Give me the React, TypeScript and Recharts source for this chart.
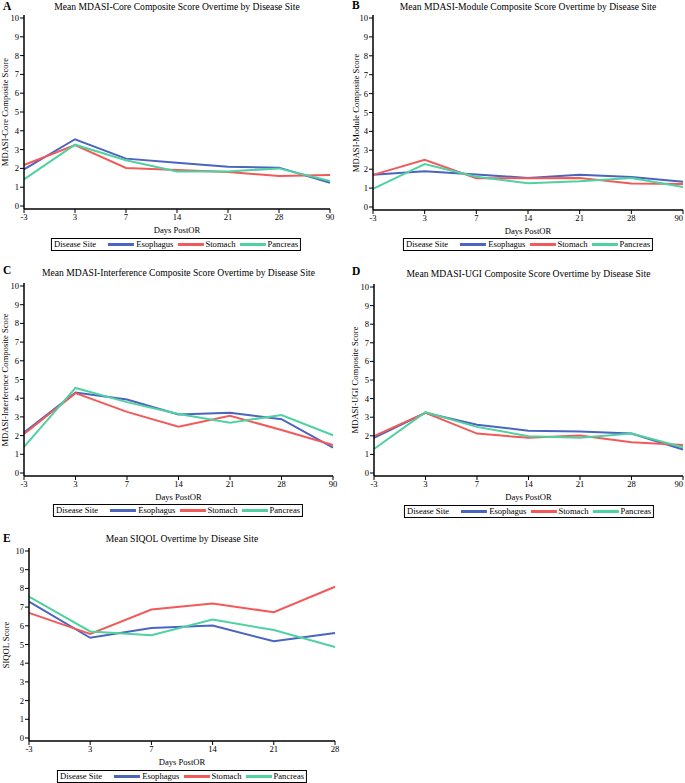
import React from "react";
import { Line, LineChart, XAxis, YAxis } from "recharts";

const days = ["-3", "3", "7", "14", "21", "28", "90"];
const siqolDays = ["-3", "3", "7", "14", "21", "28"];
const sites = ["Esophagus", "Stomach", "Pancreas"];
const yTicks = [0, 1, 2, 3, 4, 5, 6, 7, 8, 9, 10];

// MDASI-Core composite
const coreEsophagus = [1.95, 3.55, 2.52, 2.3, 2.09, 2.04, 1.24];
const coreStomach = [2.18, 3.24, 2.02, 1.91, 1.81, 1.6, 1.65];
const corePancreas = [1.42, 3.26, 2.43, 1.84, 1.84, 2.0, 1.33];

// MDASI-Module composite
const moduleEsophagus = [1.7, 1.89, 1.72, 1.54, 1.7, 1.59, 1.33];
const moduleStomach = [1.7, 2.5, 1.52, 1.52, 1.54, 1.24, 1.22];
const modulePancreas = [0.96, 2.27, 1.6, 1.26, 1.36, 1.54, 1.06];

// MDASI-Interference composite
const interfEsophagus = [2.16, 4.3, 3.93, 3.13, 3.22, 2.88, 1.36];
const interfStomach = [2.09, 4.27, 3.27, 2.48, 3.06, 2.3, 1.5];
const interfPancreas = [1.4, 4.55, 3.79, 3.15, 2.69, 3.1, 2.02];

// MDASI-UGI composite
const ugiEsophagus = [1.89, 3.24, 2.6, 2.27, 2.23, 2.12, 1.26];
const ugiStomach = [1.98, 3.24, 2.12, 1.89, 2.02, 1.65, 1.5];
const ugiPancreas = [1.29, 3.27, 2.48, 1.98, 1.89, 2.12, 1.38];

// SIQOL
const siqolEsophagus = [7.29, 5.36, 5.88, 6.02, 5.17, 5.61];
const siqolStomach = [6.69, 5.56, 6.87, 7.19, 6.73, 8.09];
const siqolPancreas = [7.56, 5.7, 5.5, 6.34, 5.77, 4.87];

const colors: Record<string, string> = {
  Esophagus: "#4a64c0",
  Stomach: "#f25a5a",
  Pancreas: "#4fd1a1",
};

const font = "'Liberation Serif', 'Times New Roman', serif";
const PAGE_W = 685;

type Geo = {
  chartX: number;
  L: number;
  R: number;
  T: number;
  B: number;
  titleY: number;
  letterX: number;
  letterY: number;
  yLabelX: number;
  legendTop: number;
  legendCenter: number;
};

type PanelProps = {
  letter: string;
  title: string;
  yLabel: string;
  cats: string[];
  series: number[][];
  geo: Geo;
};

const buildRows = (cats: string[], series: number[][]) =>
  cats.map((day, i) => {
    const row: Record<string, string | number> = { day };
    sites.forEach((s, k) => {
      row[s] = series[k][i];
    });
    return row;
  });

// day tick; the label at the page edge is pulled inside
const DayTick = (props: any) => {
  const { x, y, payload, edge } = props;
  const atEdge = x + 6 > edge;
  return (
    <text
      x={atEdge ? edge - 1 : x}
      y={y}
      dy="0.8em"
      textAnchor={atEdge ? "end" : "middle"}
      fontSize={8.6}
      fontFamily={font}
      fill="#000"
    >
      {payload.value}
    </text>
  );
};

const Legend = ({ center, top }: { center: number; top: number }) => (
  <div
    style={{
      position: "absolute",
      left: center,
      top,
      transform: "translateX(-50%)",
      display: "flex",
      alignItems: "center",
      height: 11,
      border: "1.5px solid #000",
      padding: "0 2px",
      fontSize: 8.6,
      lineHeight: "11px",
      whiteSpace: "nowrap",
      background: "#fff",
    }}
  >
    <span style={{ marginRight: 8 }}>Disease Site</span>
    {sites.map((s) => (
      <React.Fragment key={s}>
        <span
          style={{
            display: "inline-block",
            width: 26,
            height: 2.5,
            background: colors[s],
            marginLeft: 4,
            marginRight: 2,
          }}
        />
        <span>{s}</span>
      </React.Fragment>
    ))}
  </div>
);

const Panel = ({ letter, title, yLabel, cats, series, geo }: PanelProps) => {
  const { chartX, L, R, T, B } = geo;
  const data = buildRows(cats, series);
  const plotH = B - T;
  const width = R - chartX + 12;
  const height = plotH + 2 + 32;
  const edge = PAGE_W - chartX - 1;
  const tick = { fontSize: 8.6, fill: "#000", fontFamily: font };
  const axisLine = { stroke: "#000", strokeWidth: 1.5 };

  return (
    <>
      <div
        style={{
          position: "absolute",
          left: geo.letterX,
          top: geo.letterY,
          fontSize: 11.5,
          fontWeight: "bold",
          lineHeight: 1,
        }}
      >
        {letter}
      </div>
      <div
        style={{
          position: "absolute",
          left: L,
          width: R - L,
          top: geo.titleY - 6,
          lineHeight: "12px",
          fontSize: 9.6,
          textAlign: "center",
          whiteSpace: "nowrap",
        }}
      >
        {title}
      </div>
      <div
        style={{
          position: "absolute",
          left: geo.yLabelX - plotH / 2,
          top: (T + B) / 2 - 5,
          width: plotH,
          height: 10,
          lineHeight: "10px",
          fontSize: 8.6,
          textAlign: "center",
          transform: "rotate(-90deg)",
          whiteSpace: "nowrap",
        }}
      >
        {yLabel}
      </div>
      <div style={{ position: "absolute", left: chartX, top: T - 2 }}>
        <LineChart
          width={width}
          height={height}
          data={data}
          margin={{ top: 2, right: 12, bottom: 0, left: 0 }}
        >
          <XAxis
            dataKey="day"
            height={32}
            tick={<DayTick edge={edge} />}
            tickSize={4}
            tickMargin={0}
            tickLine={{ stroke: "#000" }}
            axisLine={axisLine}
            interval={0}
            label={{
              value: "Days PostOR",
              position: "insideBottom",
              offset: 8,
              fontSize: 8.6,
              fill: "#000",
              fontFamily: font,
            }}
          />
          <XAxis
            xAxisId="top"
            orientation="top"
            dataKey="day"
            height={0}
            tick={false}
            tickLine={false}
            axisLine={axisLine}
          />
          <YAxis
            width={L - chartX}
            domain={[0, 10]}
            ticks={yTicks}
            interval={0}
            padding={{ top: 3, bottom: 3 }}
            tick={tick}
            tickSize={4}
            tickMargin={1}
            tickLine={{ stroke: "#000" }}
            axisLine={axisLine}
          />
          <YAxis
            yAxisId="right"
            orientation="right"
            width={0}
            domain={[0, 10]}
            tick={false}
            tickLine={false}
            axisLine={axisLine}
          />
          {sites.map((s) => (
            <Line
              key={s}
              dataKey={s}
              type="linear"
              stroke={colors[s]}
              strokeWidth={2}
              dot={false}
              activeDot={false}
              isAnimationActive={false}
            />
          ))}
        </LineChart>
      </div>
      <Legend center={geo.legendCenter} top={geo.legendTop} />
    </>
  );
};

const App = () => (
  <div
    style={{
      position: "absolute",
      left: 0,
      top: 0,
      width: PAGE_W,
      height: 783,
      background: "#fff",
      fontFamily: font,
      color: "#000",
      overflow: "hidden",
    }}
  >
    <Panel
      letter="A"
      title="Mean MDASI-Core Composite Score Overtime by Disease Site"
      yLabel="MDASI-Core Composite Score"
      cats={days}
      series={[coreEsophagus, coreStomach, corePancreas]}
      geo={{ chartX: 0, L: 24, R: 330, T: 15, B: 209, titleY: 6.5, letterX: 3, letterY: 1, yLabelX: 5, legendTop: 238, legendCenter: 176 }}
    />
    <Panel
      letter="B"
      title="Mean MDASI-Module Composite Score Overtime by Disease Site"
      yLabel="MDASI-Module Composite Score"
      cats={days}
      series={[moduleEsophagus, moduleStomach, modulePancreas]}
      geo={{ chartX: 340, L: 373, R: 683, T: 15, B: 210, titleY: 6.5, letterX: 352, letterY: 0, yLabelX: 355, legendTop: 238, legendCenter: 528 }}
    />
    <Panel
      letter="C"
      title="Mean MDASI-Interference Composite Score Overtime by Disease Site"
      yLabel="MDASI-Interference Composite Score"
      cats={days}
      series={[interfEsophagus, interfStomach, interfPancreas]}
      geo={{ chartX: 0, L: 24, R: 333, T: 283, B: 476, titleY: 273, letterX: 3, letterY: 265, yLabelX: 4, legendTop: 504, legendCenter: 178 }}
    />
    <Panel
      letter="D"
      title="Mean MDASI-UGI Composite Score Overtime by Disease Site"
      yLabel="MDASI-UGI Composite  Score"
      cats={days}
      series={[ugiEsophagus, ugiStomach, ugiPancreas]}
      geo={{ chartX: 340, L: 374, R: 683, T: 284, B: 476, titleY: 274, letterX: 352, letterY: 266, yLabelX: 355, legendTop: 505, legendCenter: 529 }}
    />
    <Panel
      letter="E"
      title="Mean SIQOL Overtime by Disease Site"
      yLabel="SIQOL Score"
      cats={siqolDays}
      series={[siqolEsophagus, siqolStomach, siqolPancreas]}
      geo={{ chartX: 0, L: 29, R: 335, T: 548, B: 741, titleY: 539, letterX: 3, letterY: 533, yLabelX: 5, legendTop: 770, legendCenter: 182 }}
    />
  </div>
);

export default App;
